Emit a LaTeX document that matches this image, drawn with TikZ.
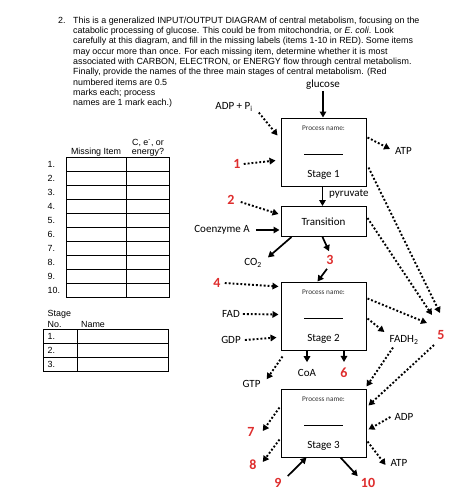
\documentclass[tikz,border=0pt]{standalone}
\usepackage{fontspec}
\setmainfont{Liberation Sans}
\newfontfamily\calib{Carlito}
\usetikzlibrary{arrows.meta}
\definecolor{labelred}{RGB}{222,45,45}
\tikzset{
    qtext/.style={font=\fontsize{8.9}{10.3}\selectfont, inner sep=0},
    tabline/.style={line width=0.8pt},
    stagebox/.style={draw, line width=1pt, minimum width=85pt, minimum height=68pt, inner sep=0, font=\calib\fontsize{11}{12}\selectfont},
    procname/.style={font=\calib\fontsize{7.3}{8}\selectfont, text=black!80, inner sep=0},
    lbl/.style={font=\calib\fontsize{11}{12}\selectfont, inner sep=1pt},
    rednum/.style={font=\calib\bfseries\fontsize{14}{15}\selectfont, text=labelred, inner sep=1pt},
    solidarr/.style={-{Triangle[length=6pt,width=6.5pt]}, line width=1.7pt},
    dotarr/.style={-{Triangle[length=6pt,width=6.5pt]}, line width=1.9pt, dash pattern=on 1.9pt off 2pt},
}
\def\procbox#1#2#3{
    \node[stagebox] (#1) at #2 {};
    \node[procname] (#1pn) at ([yshift=-10.5pt]#1.north) {Process name:};
    \draw[line width=0.6pt] ([shift={(-19.5pt,-37pt)}]#1.north) -- ([shift={(19.5pt,-37pt)}]#1.north);
    \node[lbl] (#1st) at ([yshift=12pt]#1.south) {#3};
}

\begin{document}
\begin{tikzpicture}[x=1pt,y=-1pt]
\useasboundingbox (0,0) rectangle (474,501);

    % question
    \node[qtext,anchor=north west] (qno) at (58,16.7) {2.};
    \node[qtext,anchor=north west,align=left] (qbody) at (73,16.7) {This is a generalized INPUT/OUTPUT DIAGRAM of central metabolism, focusing on the\\
        catabolic processing of glucose. This could be from mitochondria, or \textit{E. coli}. Look\\
        carefully at this diagram, and fill in the missing labels (items 1-10 in RED). Some items\\
        may occur more than once. For each missing item, determine whether it is most\\
        associated with CARBON, ELECTRON, or ENERGY flow through central metabolism.\\
        Finally, provide the names of the three main stages of central metabolism. (Red\\
        numbered items are 0.5\\
        marks each; process\\
        names are 1 mark each.)};

    % answer tables
    \node[qtext] (hmiss) at (96,152.5) {Missing Item};
    \node[qtext] (hkind) at (148,143) {C, e\textsuperscript{-}, or};
    \node[qtext] (hkindb) at (148,152.5) {energy?};
    \foreach \i in {1,...,10}{
        \draw[tabline] (66.7,{143.5+14*\i}) rectangle (169.3,{157.5+14*\i});
        \draw[tabline] (126.7,{143.5+14*\i}) -- (126.7,{157.5+14*\i});
        \node[qtext,anchor=west] (num\i) at (47.5,{150.5+14*\i}) {\i.};
    }
    \node[qtext,anchor=west] (hstage) at (47.5,314) {Stage};
    \node[qtext,anchor=west] (hno) at (47.5,324.7) {No.};
    \node[qtext,anchor=west] (hname) at (81,324.7) {Name};
    \foreach \i in {1,2,3}{
        \draw[tabline] (43.3,{315.3+14*\i}) rectangle (168.7,{329.3+14*\i});
        \draw[tabline] (77.3,{315.3+14*\i}) -- (77.3,{329.3+14*\i});
        \node[qtext,anchor=west] (snum\i) at (47.5,{322.3+14*\i}) {\i.};
    }

    % boxes
    \node[lbl] (glucose) at (323,85) {glucose};
    \procbox{s1}{(323.5,152)}{Stage 1}
    \node[stagebox,minimum height=30pt] (tr) at (323.5,221.5) {Transition};
    \procbox{s2}{(323.5,316)}{Stage 2}
    \procbox{s3}{(323.5,423)}{Stage 3}

    % labels
    \node[lbl] (adpin) at (234,107) {ADP + P\textsubscript{i}};
    \node[rednum] (one) at (237,164) {1};
    \node[lbl,anchor=west] (atpa) at (394,151) {ATP};
    \node[lbl,anchor=west] (pyr) at (328,194) {pyruvate};
    \node[rednum] (two) at (231,200) {2};
    \node[lbl] (coenz) at (222,230) {Coenzyme A};
    \node[lbl] (co2) at (253,263) {CO\textsubscript{2}};
    \node[rednum] (three) at (330,260) {3};
    \node[rednum] (four) at (217,283) {4};
    \node[lbl] (fad) at (231,314) {FAD};
    \node[lbl] (gdp) at (231,340) {GDP};
    \node[lbl] (fadh) at (404,340) {FADH\textsubscript{2}};
    \node[rednum] (five) at (441,335) {5};
    \node[lbl] (coa) at (307,373) {CoA};
    \node[rednum] (six) at (344,373) {6};
    \node[lbl] (gtp) at (251.5,384) {GTP};
    \node[lbl] (adpb) at (404,417) {ADP};
    \node[lbl] (atpb) at (399,463) {ATP};
    \node[rednum] (seven) at (251,432) {7};
    \node[rednum] (eight) at (253,465) {8};
    \node[rednum] (nine) at (278,483) {9};
    \node[rednum] (ten) at (368,483) {10};

    % stage 1
    \draw[solidarr] (glucose.south) -- (glucose.south |- s1.north);
    \draw[dotarr] ([xshift=5pt]adpin.south east) -- ([shift={(-3pt,-18pt)}]s1.north west);
    \draw[dotarr] ([xshift=2pt]one.east) -- ([shift={(-5pt,-43pt)}]s1.north west);
    \draw[dotarr] ([shift={(1pt,-20pt)}]s1.north east) -- ([shift={(-4pt,2pt)}]atpa.west);
    \draw[dotarr] ([shift={(2pt,-50pt)}]s1.north east) -- ([shift={(-1pt,22pt)}]five.center);
    \draw[solidarr] ([xshift=-1pt]s1.south) -- ([xshift=-1pt]tr.north);
    % transition
    \draw[dotarr] ([shift={(5pt,-2pt)}]two.east) -- ([shift={(-2pt,-8pt)}]tr.north west);
    \draw[solidarr] ([xshift=5pt]coenz.east) -- ([shift={(-1pt,-8.5pt)}]tr.west);
    \draw[solidarr] ([xshift=-32pt]tr.south) -- ([xshift=5pt]co2.north east);
    \draw[solidarr] ([xshift=-1pt]tr.south) -- ([shift={(-1pt,3pt)}]three.north);
    \draw[dotarr] ([shift={(1pt,3.5pt)}]tr.east) -- ([shift={(-9pt,20pt)}]five.center);
    % stage 2
    \draw[solidarr] ([shift={(-3pt,-3pt)}]three.south) -- ([xshift=-6pt]s2.north);
    \draw[dotarr] ([xshift=3pt]four.east) -- ([shift={(-2pt,-5pt)}]s2.north west);
    \draw[dotarr] ([xshift=2pt]fad.east) -- ([shift={(-2pt,-33pt)}]s2.north west);
    \draw[dotarr] ([xshift=3pt]gdp.east) -- ([shift={(-4pt,-56pt)}]s2.north west);
    \draw[dotarr] ([shift={(1pt,-17pt)}]s2.north east) -- ([shift={(-14pt,12pt)}]five.center);
    \draw[dotarr] ([shift={(1pt,-37pt)}]s2.north east) -- ([shift={(-4pt,8pt)}]fadh.west);
    \draw[solidarr] ([xshift=-16.5pt]s2.south) -- ([yshift=6pt]coa.north);
    \draw[solidarr] ([xshift=20.5pt]s2.south) -- ([yshift=5pt]six.north);
    \draw[dotarr] ([shift={(2pt,-6pt)}]s2.south west) -- ([xshift=5pt]gtp.north east);
    % stage 3
    \draw[dotarr] ([shift={(-11pt,-2pt)}]fadh.south) -- ([shift={(0pt,2pt)}]s3.north east);
    \draw[dotarr] ([shift={(-7pt,-10pt)}]five.center) -- ([shift={(2pt,-17pt)}]s3.north east);
    \draw[dotarr] ([xshift=-3pt]adpb.west) -- ([shift={(2pt,-41pt)}]s3.north east);
    \draw[dotarr] ([shift={(1pt,-53pt)}]s3.north east) -- ([shift={(-4pt,-2pt)}]atpb.west);
    \draw[dotarr] ([shift={(-1pt,-19pt)}]s3.north west) -- ([shift={(7pt,1pt)}]seven.east);
    \draw[dotarr] ([shift={(-1pt,-51pt)}]s3.north west) -- ([shift={(5pt,3pt)}]eight.east);
    \draw[solidarr] ([shift={(5pt,7pt)}]nine.east) -- ([xshift=-17pt]s3.south);
    \draw[solidarr] ([xshift=17pt]s3.south) -- ([shift={(-2pt,1pt)}]ten.north west);

\end{tikzpicture}
\end{document}
